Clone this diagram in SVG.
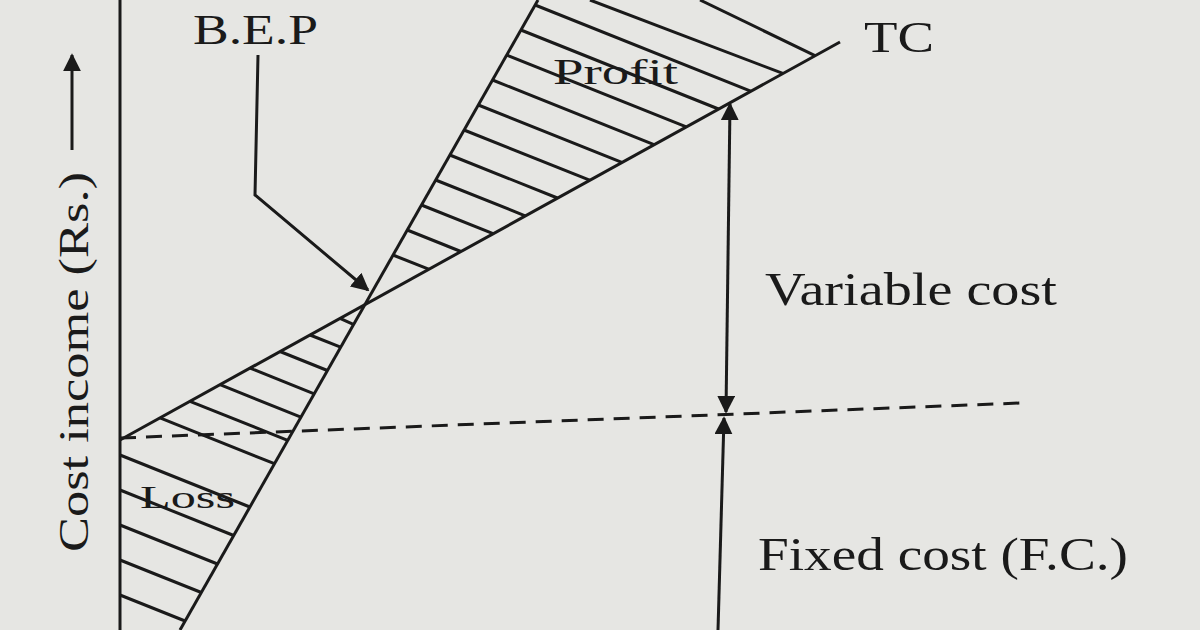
<svg xmlns="http://www.w3.org/2000/svg" width="1200" height="630" viewBox="0 0 1200 630">
<defs>
<style>
.l{stroke:#1a1a1a;stroke-width:3;fill:none}
.h{stroke:#1a1a1a;stroke-width:3}
.t{font-family:"Liberation Serif",serif;fill:#1a1a1a}
</style>
<marker id="ah" viewBox="0 0 10 10" refX="9" refY="5" markerWidth="6" markerHeight="6" orient="auto-start-reverse"><path d="M0,0L10,5L0,10z" fill="#1a1a1a"/></marker>
</defs>
<rect width="1200" height="630" fill="#e6e6e3"/>
<g id="axis"><line class="l" x1="120" y1="0" x2="120" y2="630"/></g>
<g id="connectors">
<line class="l" x1="120" y1="440" x2="840" y2="42"/>
<line class="l" x1="180" y1="630" x2="538" y2="0"/>
<line class="l" x1="120" y1="438" x2="1020" y2="403" stroke-dasharray="16,10"/>
<line class="l" x1="730" y1="104" x2="726" y2="412" marker-start="url(#ah)" marker-end="url(#ah)"/>
<line class="l" x1="724" y1="418" x2="718" y2="630" marker-start="url(#ah)"/>
<polyline class="l" points="258,55 255,195 368,290" marker-end="url(#ah)"/>
<line class="l" x1="72" y1="150" x2="72" y2="55" marker-end="url(#ah)"/>
</g>
<g id="profit-hatch">
<line class="h" x1="393" y1="255" x2="428.6" y2="269.2"/>
<line class="h" x1="407.2" y1="230" x2="460.9" y2="251.5"/>
<line class="h" x1="421.4" y1="205" x2="493.1" y2="233.7"/>
<line class="h" x1="435.6" y1="180" x2="525.2" y2="215.8"/>
<line class="h" x1="449.8" y1="155" x2="557.4" y2="198"/>
<line class="h" x1="464" y1="130" x2="589.6" y2="180.2"/>
<line class="h" x1="478.3" y1="105" x2="621.8" y2="162.4"/>
<line class="h" x1="492.5" y1="80" x2="654" y2="144.6"/>
<line class="h" x1="506.7" y1="55" x2="686.3" y2="126.8"/>
<line class="h" x1="520.9" y1="30" x2="718.5" y2="109"/>
<line class="h" x1="535.1" y1="5" x2="750.6" y2="91.2"/>
<line class="h" x1="590" y1="0" x2="782.8" y2="73.4"/>
<line class="h" x1="700" y1="0" x2="815" y2="55.6"/>
</g>
<g id="loss-hatch">
<line class="h" x1="340" y1="318.3" x2="353.9" y2="324.7"/>
<line class="h" x1="310" y1="335" x2="340.6" y2="347.2"/>
<line class="h" x1="280" y1="351.5" x2="327.4" y2="370.5"/>
<line class="h" x1="250" y1="368.1" x2="314.2" y2="393.8"/>
<line class="h" x1="220" y1="384.7" x2="300.9" y2="417.1"/>
<line class="h" x1="190" y1="401.3" x2="287.7" y2="440.4"/>
<line class="h" x1="160" y1="417.9" x2="274.4" y2="463.7"/>
<line class="h" x1="120" y1="455" x2="249.9" y2="507"/>
<line class="h" x1="120" y1="490" x2="233.7" y2="535.5"/>
<line class="h" x1="120" y1="525" x2="217.5" y2="564"/>
<line class="h" x1="120" y1="560" x2="201.3" y2="592.5"/>
<line class="h" x1="120" y1="595" x2="185.1" y2="621"/>
</g>
<g id="labels">
<text class="t" x="193" y="44" font-size="42" textLength="125" lengthAdjust="spacingAndGlyphs">B.E.P</text>
<text class="t" x="864" y="52" font-size="44" textLength="70" lengthAdjust="spacingAndGlyphs">TC</text>
<text class="t" x="553" y="84" font-size="36" textLength="125" lengthAdjust="spacingAndGlyphs">Profit</text>
<text class="t" x="765" y="305" font-size="46" textLength="292" lengthAdjust="spacingAndGlyphs">Variable cost</text>
<text class="t" x="758" y="570" font-size="46" textLength="370" lengthAdjust="spacingAndGlyphs">Fixed cost (F.C.)</text>
<text class="t" x="140" y="508" font-size="32" textLength="95" lengthAdjust="spacingAndGlyphs">Loss</text>
<text class="t" font-size="42" textLength="380" lengthAdjust="spacingAndGlyphs" transform="translate(88,552) rotate(-90)">Cost income (Rs.)</text>
</g>
</svg>
